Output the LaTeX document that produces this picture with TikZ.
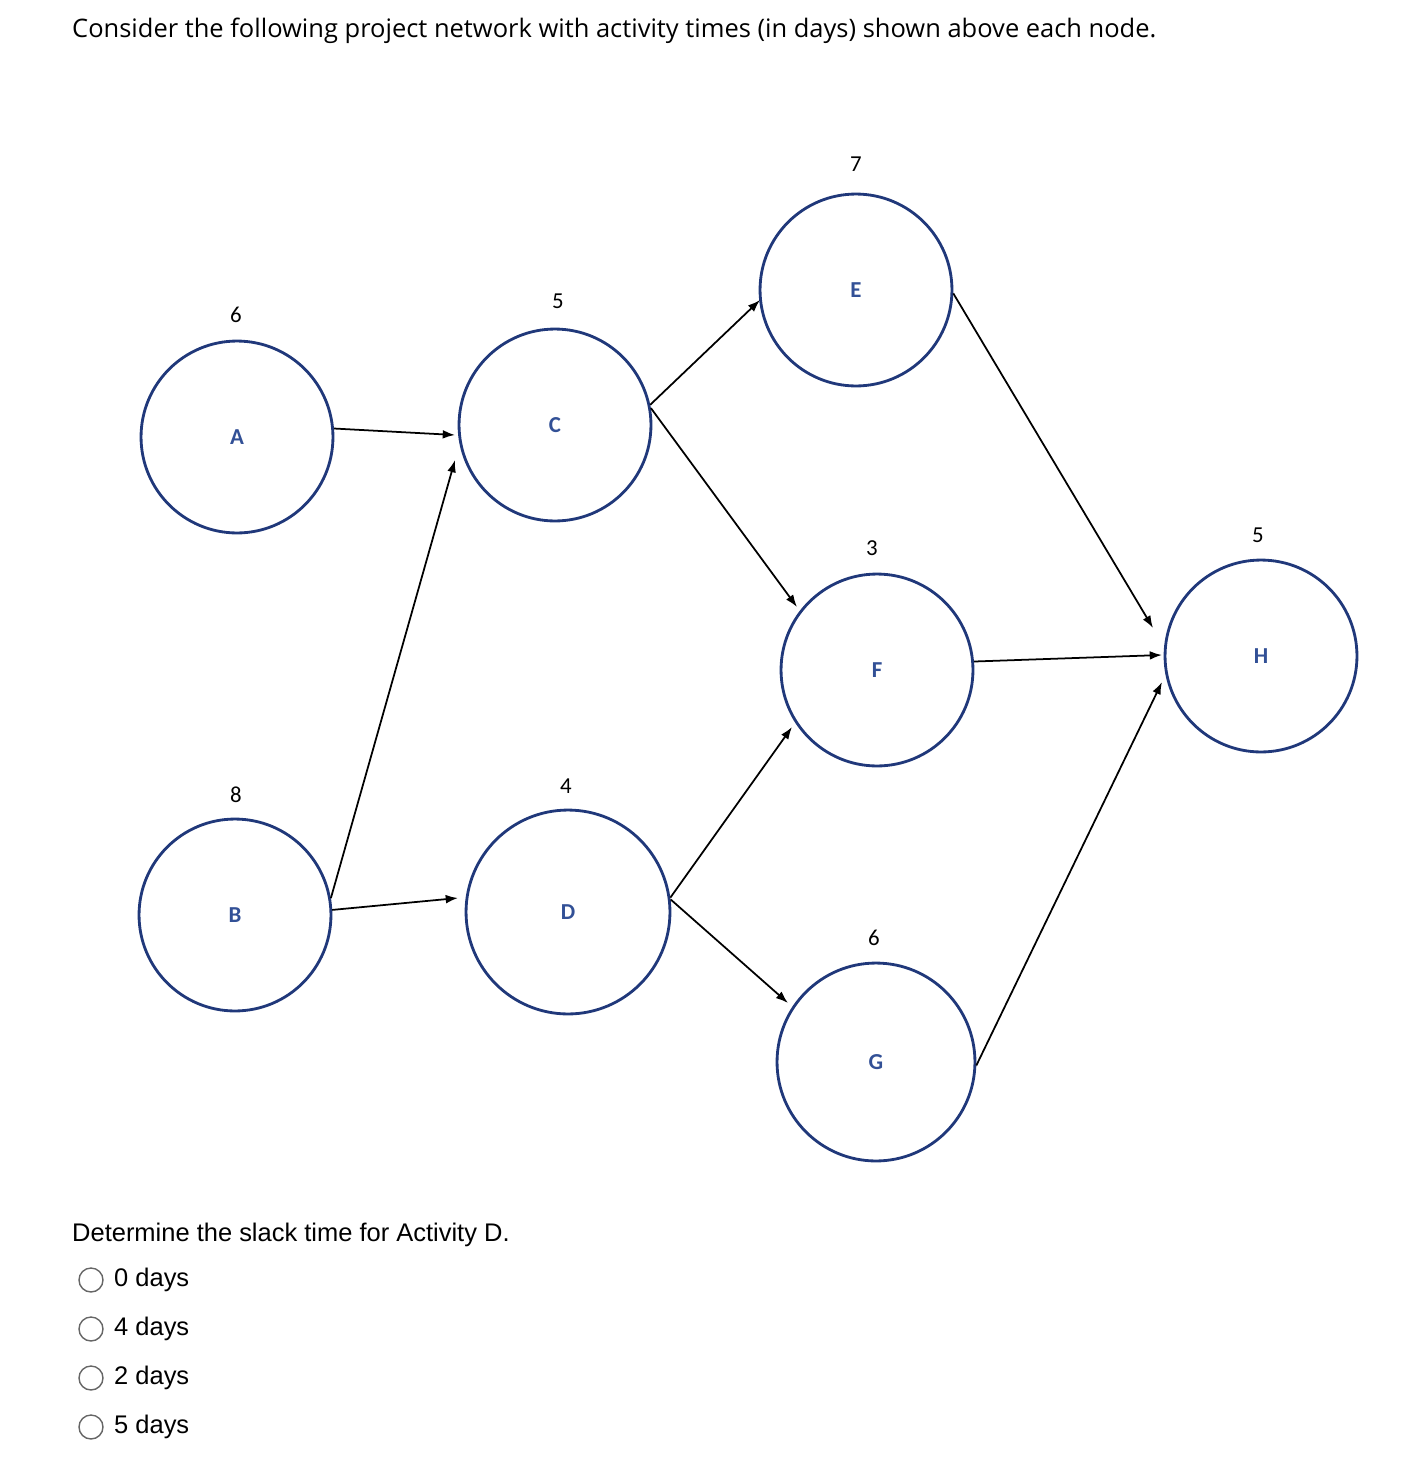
\documentclass[tikz,border=0pt]{standalone}
\usepackage{fontspec}
\setmainfont{Liberation Sans}
\newfontfamily\titlefont{Open Sans}
\newfontfamily\carl{Carlito}
\usetikzlibrary{arrows.meta}
\definecolor{navy}{RGB}{32,56,122}
\definecolor{letblue}{RGB}{50,80,150}
\tikzset{x=0.02cm,y=-0.02cm,
 act/.style={circle,draw=navy,line width=1.6pt,minimum size=#1*0.04cm,inner sep=0pt,font=\carl\bfseries\fontsize{13}{15}\selectfont,text=letblue},
 num/.style={font=\carl\fontsize{13}{15}\selectfont},
 con/.style={-{Latex[length=7pt,width=5pt]},line width=1pt},
 radio/.style={circle,draw=gray!80!black,line width=0.8pt,minimum size=0.48cm,inner sep=0pt},
 opt/.style={anchor=west,font=\fontsize{14.5}{17}\selectfont}}
\begin{document}
\begin{tikzpicture}
\useasboundingbox (0,0) rectangle (1416,1464);
\node[anchor=base west,font=\titlefont\fontsize{14.5}{17}\selectfont] (title) at (66,37) {Consider the following project network with activity times (in days) shown above each node.};
\node[act=96] (A) at (237,437) {A};
\node[act=96] (C) at (555,425) {C};
\node[act=96] (E) at (856,290) {E};
\node[act=96] (F) at (877,670) {F};
\node[act=96] (H) at (1261,656) {H};
\node[act=96] (B) at (235,915) {B};
\node[act=102] (D) at (568,912) {D};
\node[act=99] (G) at (876,1062) {G};
\node[num] (nA) at (236,315) {6};
\node[num] (nC) at (558,301) {5};
\node[num] (nE) at (856,164) {7};
\node[num] (nF) at (872,548) {3};
\node[num] (nH) at (1258,535) {5};
\node[num] (nB) at (236,795) {8};
\node[num] (nD) at (566,786) {4};
\node[num] (nG) at (874,938) {6};
\coordinate (eAC) at (455,435);
\coordinate (eBC) at (455,460);
\coordinate (eBD) at (458,898);
\coordinate (eCE) at (760,300);
\coordinate (eCF) at (797,607);
\coordinate (eEH) at (1153,628);
\coordinate (eFH) at (1162,655);
\coordinate (eDF) at (792,727);
\coordinate (eDG) at (788,1003);
\coordinate (eGH) at (1162,682);
\draw[con] (A.5) -- (eAC);
\draw[con] (B.10) -- (eBC);
\draw[con] (B.3) -- (eBD);
\draw[con] (C.12) -- (eCE);
\draw[con] (C.10) -- (eCF);
\draw[con] (E.-2) -- (eEH);
\draw[con] (F.5) -- (eFH);
\draw[con] (D.8) -- (eDF);
\draw[con] (D.7) -- (eDG);
\draw[con] (G.-2) -- (eGH);
\node[anchor=base west,font=\fontsize{14.5}{17}\selectfont] (q) at (66,1241) {Determine the slack time for Activity D.};
\foreach \y/\t [count=\i] in {1280/0 days,1329/4 days,1378/2 days,1427/5 days}{
  \node[radio] (r\i) at (91,\y) {};
  \node[opt] (o\i) at (108,\y) {\t};
}
\end{tikzpicture}
\end{document}
